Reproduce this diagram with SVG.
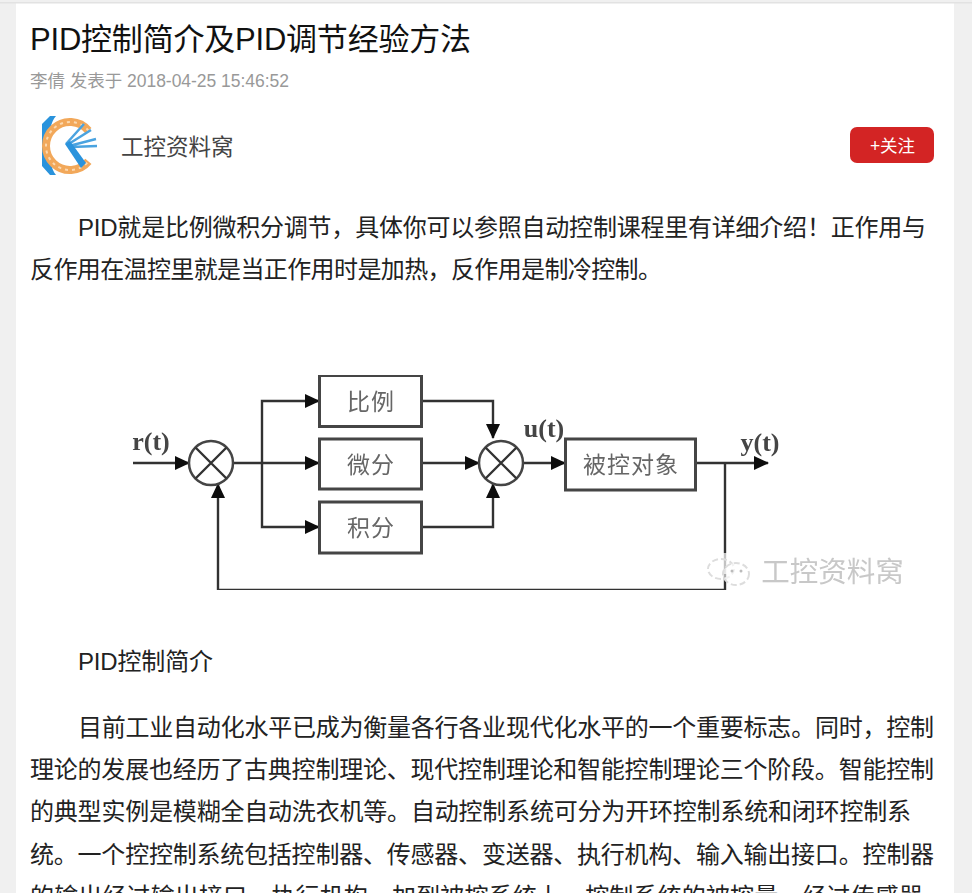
<svg xmlns="http://www.w3.org/2000/svg" width="972" height="893" viewBox="0 0 972 893">
<style>
text{font-family:"Liberation Sans","Noto Sans CJK SC",sans-serif}
.b{font-size:24px;fill:#222}
.img{font-family:"Noto Sans CJK SC",sans-serif;font-size:23px;fill:#666;text-anchor:middle;letter-spacing:1px}
.sig{font-family:"Liberation Serif",serif;font-weight:bold;font-size:26px;fill:#444;text-anchor:middle}
.box{fill:#fff;stroke:#444;stroke-width:3}
.cir{fill:#fff;stroke:#444;stroke-width:2.5}
.ln{fill:none;stroke:#333;stroke-width:2.4}
</style>
<defs>
<marker id="a" markerUnits="userSpaceOnUse" markerWidth="15" markerHeight="14" refX="14" refY="7" orient="auto"><path d="M0 0L15 7L0 14Z" fill="#111"/></marker>
<filter id="soft" x="0" y="0" width="1" height="1" filterUnits="objectBoundingBox"><feGaussianBlur stdDeviation="0.55"/></filter>
</defs>
<rect width="972" height="893" fill="#f0f0f0"/>
<rect x="16" y="3" width="938" height="890" fill="#fff"/>
<rect x="0" y="2" width="972" height="1.500" fill="#e2e2e2"/>
<g id="header">
<text x="30" y="50" font-size="31" fill="#111" textLength="441">PID控制简介及PID调节经验方法</text>
<text x="30" y="87" font-size="17.500" fill="#999" textLength="259">李倩 发表于 2018-04-25 15:46:52</text>
</g>
<g id="logo">
<path d="M56 116H50L42 124V166L50 175H56C47 165 46 126 56 116Z" fill="#2a93dc"/>
<path d="M88.400 130.600A24 24 0 1 0 88.400 161.400" fill="none" stroke="#f2a85a" stroke-width="8"/>
<path d="M88.400 130.600A24 24 0 1 0 88.400 161.400" fill="none" stroke="#fbd9b0" stroke-width="2" stroke-dasharray="3 4"/>
<path d="M66 144L84 124M67 145L91 130M69 146L96 139M71 147L97 146" fill="none" stroke="#4aa3e0" stroke-width="2.500"/>
<path d="M65 144L70 141L86 163L81 168Z" fill="#2a93dc"/>
</g>
<text id="author" x="121" y="155" font-size="22.500" fill="#444">工控资料窝</text>
<g id="follow">
<rect x="850" y="127" width="84" height="36" rx="7" fill="#d32424"/>
<text x="892.500" y="152" font-size="17.500" fill="#fff" text-anchor="middle">+关注</text>
</g>
<g id="para1">
<text class="b" x="78" y="236" textLength="848">PID就是比例微积分调节，具体你可以参照自动控制课程里有详细介绍！正作用与</text>
<text class="b" x="30" y="278" textLength="632">反作用在温控里就是当正作用时是加热，反作用是制冷控制。</text>
</g>
<g filter="url(#soft)">
<g id="connectors">
<path class="ln" d="M133 463H189" marker-end="url(#a)"/>
<path class="ln" d="M233 463H319" marker-end="url(#a)"/>
<path class="ln" d="M262 463V401H319" marker-end="url(#a)"/>
<path class="ln" d="M262 463V527H319" marker-end="url(#a)"/>
<path class="ln" d="M421 401H493V438" marker-end="url(#a)"/>
<path class="ln" d="M421 463H479" marker-end="url(#a)"/>
<path class="ln" d="M421 527H493V484" marker-end="url(#a)"/>
<path class="ln" d="M523 463H565" marker-end="url(#a)"/>
<path class="ln" d="M696 463H768" marker-end="url(#a)"/>
<path class="ln" d="M725 463V590H218V484" marker-end="url(#a)"/>
</g>
<g id="sum1"><circle class="cir" cx="211" cy="463" r="22"/><path class="ln" d="M195.500 447.500L226.500 478.500M226.500 447.500L195.500 478.500"/></g>
<g id="sum2"><circle class="cir" cx="501" cy="463" r="22"/><path class="ln" d="M485.500 447.500L516.500 478.500M516.500 447.500L485.500 478.500"/></g>
<g id="p"><rect class="box" x="319.500" y="375.500" width="102" height="51"/><text class="img" x="371" y="410">比例</text></g>
<g id="d"><rect class="box" x="319.500" y="439" width="102" height="50"/><text class="img" x="371" y="473">微分</text></g>
<g id="i"><rect class="box" x="319.500" y="502" width="102" height="51"/><text class="img" x="371" y="536">积分</text></g>
<g id="plant"><rect class="box" x="565.500" y="439" width="130" height="51"/><text class="img" x="631" y="473">被控对象</text></g>
<text class="sig" x="151" y="450">r(t)</text>
<text class="sig" x="544" y="437">u(t)</text>
<text class="sig" x="760" y="451">y(t)</text>
<g id="watermark">
<path d="M725 553V574" stroke="#fff" stroke-width="4" opacity="0.7"/>
<ellipse cx="721" cy="569" rx="13" ry="10" fill="none" stroke="#ddd" stroke-width="2" stroke-dasharray="6 3"/>
<ellipse cx="736" cy="574" rx="13" ry="11" fill="#fff" fill-opacity="0.6" stroke="#ddd" stroke-width="2" stroke-dasharray="6 3"/>
<circle cx="732" cy="571" r="1.500" fill="#bbb"/><circle cx="741" cy="571" r="1.500" fill="#bbb"/>
<text x="832.500" y="582" font-size="28.500" fill="#c8c8c8" text-anchor="middle" style="font-family:'Noto Sans CJK SC',sans-serif">工控资料窝</text>
</g>
</g>
<text id="sub" class="b" x="78" y="670" textLength="135">PID控制简介</text>
<g id="para2">
<text class="b" x="78" y="736" textLength="856">目前工业自动化水平已成为衡量各行各业现代化水平的一个重要标志。同时，控制</text>
<text class="b" x="30" y="778" textLength="904">理论的发展也经历了古典控制理论、现代控制理论和智能控制理论三个阶段。智能控制</text>
<text class="b" x="30" y="820" textLength="881">的典型实例是模糊全自动洗衣机等。自动控制系统可分为开环控制系统和闭环控制系</text>
<text class="b" x="30" y="863" textLength="904">统。一个控控制系统包括控制器、传感器、变送器、执行机构、输入输出接口。控制器</text>
<text class="b" x="30" y="905" textLength="893">的输出经过输出接口、执行机构，加到被控系统上，控制系统的被控量，经过传感器</text>
</g>
</svg>
